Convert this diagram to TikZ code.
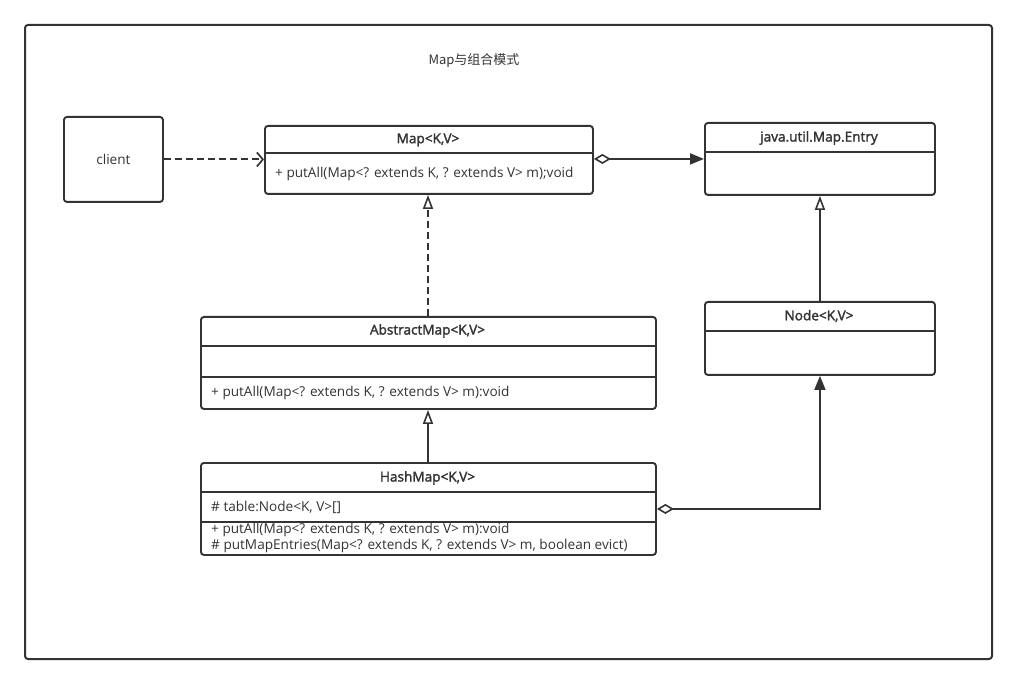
\documentclass[tikz,border=0pt]{standalone}
\usepackage{fontspec}
\setmainfont{Open Sans}[AutoFakeBold=2]
\newfontfamily\cjk{Noto Sans CJK SC}
\usetikzlibrary{arrows.meta}
\definecolor{ln}{HTML}{333333}
\begin{document}
\begin{tikzpicture}[x=1pt,y=-1pt,
  font=\fontsize{13.6}{15}\selectfont,
  cls/.style={draw=ln, line width=1.9pt, rounded corners=3pt, anchor=north west, inner sep=0pt, text=ln},
  sep/.style={draw=ln, line width=1.9pt},
  ttl/.style={font=\fontsize{13.6}{15}\selectfont\bfseries, text=ln, inner sep=0pt},
  mem/.style={anchor=west, inner sep=0pt, text=ln},
  conn/.style={draw=ln, line width=1.9pt},
  dsh/.style={conn, dash pattern=on 7pt off 4pt},
  opentri/.style={-{Triangle[open, length=14pt, width=10pt, line width=1.6pt]}},
  barb/.style={-{Straight Barb[length=6pt, width=14pt, line width=1.7pt]}},
  dia/.style={{Diamond[open, length=17pt, width=10pt, line width=1.6pt]}-{Triangle[length=14pt, width=11pt]}}
]
\useasboundingbox (0,0) rectangle (1017,684);
\draw[ln, line width=2pt, rounded corners=3pt] (25,25) rectangle (992,659);
\node[text=ln] (title) at (474,61) {\cjk\fontsize{13}{15}\selectfont Map与组合模式};

% client
\node[cls, minimum width=99pt, minimum height=85pt] (client) at (63,116) {};
\node[text=ln] (clientt) at (client.center) {client};

% Map
\node[cls, minimum width=328pt, minimum height=68pt] (map) at (264,125) {};
\draw[sep] (264,153) -- (592,153);
\node[ttl] (mapt) at (428,140) {Map<K,V>};
\node[mem] (mapm) at (275,174) {+ putAll(Map<? extends K, ? extends V> m);void};

% Entry
\node[cls, minimum width=230pt, minimum height=72pt] (entry) at (704,122) {};
\draw[sep] (704,152) -- (934,152);
\node[ttl] (entryt) at (819,138) {java.util.Map.Entry};

% AbstractMap
\node[cls, minimum width=455pt, minimum height=92pt] (abs) at (200,316) {};
\draw[sep] (200,346) -- (655,346);
\draw[sep] (200,377) -- (655,377);
\node[ttl] (abst) at (427.5,331) {AbstractMap<K,V>};
\node[mem] (absm) at (211,393) {+ putAll(Map<? extends K, ? extends V> m):void};

% HashMap
\node[cls, minimum width=455pt, minimum height=92pt] (hm) at (200,462) {};
\draw[sep] (200,492) -- (655,492);
\draw[sep] (200,522) -- (655,522);
\node[ttl] (hmt) at (427.5,478) {HashMap<K,V>};
\node[mem] (hma) at (211,507) {\# table:Node<K, V>[]};
\node[mem] (hmm1) at (211,530) {+ putAll(Map<? extends K, ? extends V> m):void};
\node[mem] (hmm2) at (211,546) {\# putMapEntries(Map<? extends K, ? extends V> m, boolean evict)};

% Node
\node[cls, minimum width=230pt, minimum height=73pt] (nd) at (704,301) {};
\draw[sep] (704,331) -- (934,331);
\node[ttl] (ndt) at (819,316) {Node<K,V>};

% connectors
\draw[dsh, barb] (client.east) -- (client.east -| map.west);
\draw[conn, dia] (map.east |- entry.west) -- (entry.west);
\draw[dsh, opentri] (abs.north -| mapt) -- (map.south -| mapt);
\draw[conn, opentri] (hm.north -| mapt) -- (abs.south -| mapt);
\draw[conn, opentri] (nd.north) -- (entry.south);
\draw[conn, dia] (hm.east) -| (nd.south);
\end{tikzpicture}
\end{document}
